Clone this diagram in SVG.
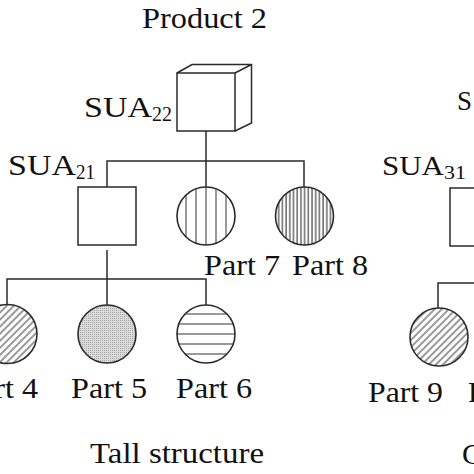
<svg xmlns="http://www.w3.org/2000/svg" width="474" height="474" viewBox="0 0 474 474">
<style>
.ln{fill:none;stroke:#2a2a2a;stroke-width:1.5}
.sh{stroke:#2a2a2a;stroke-width:1.6}
.t{font-family:"Liberation Serif","Times New Roman",serif;fill:#111}
.m{font-size:30px}
.s{font-size:20px}
</style>
<defs>
<pattern id="v10" patternUnits="userSpaceOnUse" width="10" height="10">
<rect width="10" height="10" fill="#fff"/><line x1="6" y1="0" x2="6" y2="10" stroke="#333" stroke-width="1"/>
</pattern>
<pattern id="v4" patternUnits="userSpaceOnUse" x="0.2" width="3.7" height="10">
<rect width="3.7" height="10" fill="#fff"/><line x1="1" y1="0" x2="1" y2="10" stroke="#333" stroke-width="1.1"/>
</pattern>
<pattern id="h10" patternUnits="userSpaceOnUse" width="10" height="10">
<rect width="10" height="10" fill="#fff"/><line x1="0" y1="4" x2="10" y2="4" stroke="#333" stroke-width="1"/>
</pattern>
<pattern id="dg" patternUnits="userSpaceOnUse" width="5" height="5" patternTransform="rotate(45)">
<rect width="5" height="5" fill="#fff"/><line x1="1" y1="0" x2="1" y2="5" stroke="#333" stroke-width="1"/>
</pattern>
<pattern id="st" patternUnits="userSpaceOnUse" width="2" height="2">
<rect width="2" height="2" fill="#dcdcdc"/><rect width="1" height="1" fill="#a8a8a8"/>
</pattern>
</defs>
<rect width="474" height="474" fill="#fff"/>

<g id="connectors" class="ln">
<line x1="206" y1="131" x2="206" y2="187"/>
<polyline points="107,187 107,161 304,161 304,187"/>
<line x1="107" y1="250" x2="107" y2="305"/>
<polyline points="7,305 7,279 206,279 206,305"/>
<polyline points="438,308 438,283 480,283"/>
</g>

<g id="title"><text class="t m" x="142" y="28" textLength="125" lengthAdjust="spacingAndGlyphs">Product 2</text></g>

<g id="sua22">
<path class="ln" d="M177,73 L192,64.5 L251.5,64.5 L251.5,123 L235,131 M235,73 L251.5,64.5"/>
<rect class="ln" x="177" y="73" width="58" height="58"/>
<text class="t m" x="84" y="117" textLength="68" lengthAdjust="spacingAndGlyphs">SUA</text>
<text class="t s" x="152" y="121" textLength="20" lengthAdjust="spacingAndGlyphs">22</text>
</g>

<g id="sua21">
<rect class="ln" x="78" y="187" width="58" height="58"/>
<text class="t m" x="8" y="175" textLength="68" lengthAdjust="spacingAndGlyphs">SUA</text>
<text class="t s" x="76" y="179" textLength="19" lengthAdjust="spacingAndGlyphs">21</text>
</g>

<g id="part7">
<circle class="sh" cx="206" cy="216" r="29" fill="url(#v10)"/>
<text class="t m" x="204" y="275" textLength="76" lengthAdjust="spacingAndGlyphs">Part 7</text>
</g>
<g id="part8">
<circle class="sh" cx="304.5" cy="216" r="29" fill="url(#v4)"/>
<text class="t m" x="292" y="275" textLength="76" lengthAdjust="spacingAndGlyphs">Part 8</text>
</g>
<g id="part4">
<circle class="sh" cx="7.5" cy="334" r="29.5" fill="url(#dg)"/>
<text class="t m" x="-38" y="398" textLength="76" lengthAdjust="spacingAndGlyphs">Part 4</text>
</g>
<g id="part5">
<circle class="sh" cx="107" cy="334" r="29" fill="url(#st)"/>
<text class="t m" x="71" y="398" textLength="76" lengthAdjust="spacingAndGlyphs">Part 5</text>
</g>
<g id="part6">
<circle class="sh" cx="206" cy="334" r="29" fill="url(#h10)"/>
<text class="t m" x="176" y="398" textLength="76" lengthAdjust="spacingAndGlyphs">Part 6</text>
</g>
<g id="caption-tall"><text class="t m" x="90" y="463" textLength="174" lengthAdjust="spacingAndGlyphs">Tall structure</text></g>

<g id="sua32"><text class="t" style="font-size:27px" x="457" y="110">S</text></g>
<g id="sua31">
<rect class="ln" x="450" y="188" width="58" height="58"/>
<text class="t" style="font-size:27px" x="382" y="175" textLength="62" lengthAdjust="spacingAndGlyphs">SUA</text>
<text class="t" style="font-size:19px" x="444" y="179" textLength="22" lengthAdjust="spacingAndGlyphs">31</text>
</g>
<g id="part9">
<circle class="sh" cx="439" cy="337" r="29" fill="url(#dg)"/>
<text class="t m" x="368" y="402" textLength="75" lengthAdjust="spacingAndGlyphs">Part 9</text>
<text class="t m" x="468" y="402">P</text>
</g>
<g id="caption-right"><text class="t m" x="462" y="464">C</text></g>
</svg>
